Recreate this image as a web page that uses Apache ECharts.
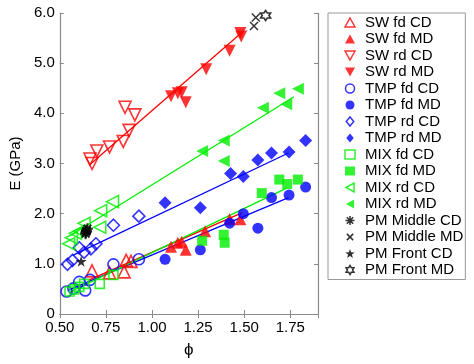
<!DOCTYPE html>
<html><head><meta charset="utf-8">
<script src="https://cdn.jsdelivr.net/npm/echarts@6/dist/echarts.min.js"></script>
<style>html,body{margin:0;padding:0;background:#fff}#c{width:474px;height:364px}</style>
</head><body><div id="c"></div>
<script>
const xTicks = [0.50, 0.75, 1.00, 1.25, 1.50, 1.75];
const yTicks = [0, 1, 2, 3, 4, 5, 6];
const seriesNames = ["SW fd CD","SW fd MD","SW rd CD","SW rd MD","TMP fd CD","TMP fd MD","TMP rd CD","TMP rd MD","MIX fd CD","MIX fd MD","MIX rd CD","MIX rd MD","PM Middle CD","PM Middle MD","PM Front CD","PM Front MD"];

const swFdCD = [[0.675,0.86],[0.770,0.82],[0.849,0.84],[0.860,1.07],[0.886,1.05]];
const swFdMD = [[1.103,1.34],[1.140,1.42],[1.161,1.44],[1.183,1.28],[1.288,1.65],[1.421,1.89],[1.479,1.89]];
const swRdCD = [[0.664,3.09],[0.675,3.00],[0.701,3.25],[0.770,3.33],[0.844,3.44],[0.876,3.66],[0.854,4.12],[0.907,3.97]];
const swRdMD = [[1.103,4.34],[1.140,4.40],[1.161,4.42],[1.183,4.22],[1.294,4.88],[1.421,5.25],[1.479,5.60],[1.484,5.53]];
const tmpFdCD = [[0.537,0.45],[0.574,0.51],[0.606,0.64],[0.638,0.47],[0.664,0.68],[0.791,0.99],[0.929,1.09]];
const tmpFdMD = [[1.071,1.09],[1.262,1.28],[1.421,1.81],[1.495,2.00],[1.574,1.71],[1.648,2.32],[1.743,2.37],[1.833,2.53]];
const tmpRdCD = [[0.542,0.99],[0.569,1.07],[0.606,1.32],[0.632,1.23],[0.669,1.30],[0.696,1.40],[0.791,1.77],[0.929,1.95]];
const tmpRdMD = [[1.071,2.22],[1.262,2.12],[1.426,2.80],[1.495,2.74],[1.574,3.07],[1.648,3.21],[1.743,3.23],[1.833,3.46]];
const mixFdCD = [[0.553,0.45],[0.579,0.49],[0.606,0.54],[0.632,0.60],[0.717,0.60],[0.791,0.78]];
const mixFdMD = [[1.272,1.46],[1.389,1.58],[1.394,1.42],[1.595,2.41],[1.690,2.68],[1.733,2.59],[1.791,2.68]];
const mixRdCD = [[0.548,1.40],[0.563,1.52],[0.585,1.61],[0.606,1.65],[0.632,1.81],[0.717,1.73],[0.722,2.06],[0.786,2.24]];
const mixRdMD = [[1.272,3.25],[1.389,3.46],[1.389,3.05],[1.601,4.11],[1.690,4.40],[1.728,4.18],[1.791,4.49]];
const pmMidCD = [[0.640,1.60],[0.645,1.66],[0.650,1.70],[0.642,1.63]];
const pmMidMD = [[1.553,5.74],[1.563,5.91]];
const pmFrontCD = [[0.616,1.05]];
const pmFrontMD = [[1.616,5.95]];

const swFdLine = [[0.66,0.68],[1.49,2.02]];
const swRdLine = [[0.664,2.98],[1.484,5.60]];
const tmpFdLine = [[0.55,0.48],[1.74,2.32]];
const tmpRdLine = [[0.57,1.17],[1.74,3.21]];
const mixFdLine = [[0.55,0.43],[1.73,2.51]];
const mixRdLine = [[0.56,1.57],[1.77,4.33]];

const RED = '#ff0000', BLUE = '#0000ff', GREEN = '#00ee00', BLACK = '#000000';
const STAR5 = 'path://M0,-10L2.35,-3.24L9.51,-3.09L3.8,1.24L5.88,8.09L0,4L-5.88,8.09L-3.8,1.24L-9.51,-3.09L-2.35,-3.24Z';
const HEX = 'path://M0,-10L2.89,-5L8.66,-5L5.77,0L8.66,5L2.89,5L0,10L-2.89,5L-8.66,5L-5.77,0L-8.66,-5L-2.89,-5Z';
const AST = 'path://M0,-10L0,10M-10,0L10,0M-7.07,-7.07L7.07,7.07M-7.07,7.07L7.07,-7.07';
const XMK = 'path://M-10,-10L10,10M-10,10L10,-10';
const XMK_L = 'path://M-7,-7L7,7M-7,7L7,-7M-10,-10L-10,-10M10,10L10,10';
const TRI_UP = 'path://M5,0L10,9L0,9Z';
const TRI_DN = 'path://M0,0L10,0L5,9Z';
const TRI_LT = 'path://M0,5L9,0L9,10Z';
const DIAM = 'path://M5,0L10,6L5,12L0,6Z';

function sc(name, data, symbol, size, color, open, rotate) {
  return {
    name, type: 'scatter', data, symbol, symbolSize: size, symbolRotate: rotate || 0,
    itemStyle: open ? {color: 'rgba(255,255,255,0)', borderColor: color, borderWidth: 1.6}
                    : {color: color, borderColor: color, borderWidth: 0},
    emphasis: {disabled: true}, z: 3
  };
}
function ln(data, color) {
  return {type: 'line', data, showSymbol: false, symbol: 'none', silent: true,
    lineStyle: {color, width: 1.3}, z: 2, emphasis: {disabled: true}};
}

const series = [
  sc(seriesNames[0], swFdCD, 'triangle', 12, RED, true),
  sc(seriesNames[1], swFdMD, 'triangle', 12, RED, false),
  sc(seriesNames[2], swRdCD, 'triangle', 12, RED, true, 180),
  sc(seriesNames[3], swRdMD, 'triangle', 12, RED, false, 180),
  sc(seriesNames[4], tmpFdCD, 'circle', 11, BLUE, true),
  sc(seriesNames[5], tmpFdMD, 'circle', 11, BLUE, false),
  sc(seriesNames[6], tmpRdCD, 'diamond', 12, BLUE, true),
  sc(seriesNames[7], tmpRdMD, 'diamond', 13, BLUE, false),
  sc(seriesNames[8], mixFdCD, 'rect', 9, GREEN, true),
  sc(seriesNames[9], mixFdMD, 'rect', 10, GREEN, false),
  sc(seriesNames[10], mixRdCD, 'triangle', 12, GREEN, true, 90),
  sc(seriesNames[11], mixRdMD, 'triangle', 12, GREEN, false, 90),
  {name: seriesNames[12], type: 'scatter', data: pmMidCD, symbol: AST, symbolSize: 11,
   itemStyle: {color: 'none', borderColor: BLACK, borderWidth: 2}, z: 4, emphasis: {disabled: true}},
  {name: seriesNames[13], type: 'scatter', data: pmMidMD, symbol: XMK, symbolSize: 8,
   itemStyle: {color: 'none', borderColor: BLACK, borderWidth: 1.5}, z: 4, emphasis: {disabled: true}},
  {name: seriesNames[14], type: 'scatter', data: pmFrontCD, symbol: STAR5, symbolSize: 11,
   itemStyle: {color: BLACK, borderWidth: 0}, z: 4, emphasis: {disabled: true}},
  {name: seriesNames[15], type: 'scatter', data: pmFrontMD, symbol: HEX, symbolSize: 10,
   itemStyle: {color: 'rgba(255,255,255,0)', borderColor: BLACK, borderWidth: 1.6}, z: 4, emphasis: {disabled: true}},
  ln(swFdLine, RED), ln(swRdLine, RED), ln(tmpFdLine, BLUE), ln(tmpRdLine, BLUE),
  ln(mixFdLine, GREEN), ln(mixRdLine, GREEN)
];

const legendIcons = [TRI_UP, TRI_UP, TRI_DN, TRI_DN, 'circle', 'circle', DIAM, DIAM, 'rect', 'rect', TRI_LT, TRI_LT, AST, XMK_L, STAR5, HEX];
const legendData = seriesNames.map((n, i) => {
  const s = series[i];
  const open = s.itemStyle.color === 'rgba(255,255,255,0)' || s.itemStyle.color === 'none';
  return {name: n, icon: legendIcons[i],
    itemStyle: {color: s.itemStyle.color, borderColor: s.itemStyle.borderColor || s.itemStyle.color,
      borderWidth: open ? 1.5 : 0}};
});

const AX = '#8a8a8a';
const FONT = "'Liberation Sans', Arial, sans-serif";
const chart = echarts.init(document.getElementById('c'), null, {renderer: 'canvas'});
chart.setOption({
  animation: false,
  backgroundColor: '#fff',
  grid: {left: 52, right: 156, top: 13, bottom: 43},
  legend: {
    data: legendData, orient: 'vertical', left: 328, top: 13,
    padding: [2, 2, 2, 15], itemGap: 1.5, itemWidth: 10, itemHeight: 9,
    backgroundColor: '#fff', borderColor: '#999', borderWidth: 1,
    symbolRotate: 0,
    textStyle: {fontFamily: FONT, fontSize: 15, color: '#000', lineHeight: 15, padding: [0,0,0,5]},
    selectedMode: false
  },
  xAxis: [{
    type: 'value', min: 0.5, max: 1.9, interval: 0.25,
    name: 'ϕ', nameLocation: 'middle', nameGap: 28,
    nameTextStyle: {fontFamily: FONT, fontSize: 17, color: '#000'},
    axisLine: {show: true, lineStyle: {color: AX, width: 1.2}},
    axisTick: {show: true, inside: true, length: 4, lineStyle: {color: AX}},
    axisLabel: {fontFamily: FONT, fontSize: 15, color: '#000', margin: 6, showMaxLabel: false,
      formatter: v => v.toFixed(2)},
    splitLine: {show: false}
  }, {
    type: 'value', position: 'top', min: 0.5, max: 1.9, interval: 0.25,
    axisLine: {show: true, lineStyle: {color: AX, width: 1.2}},
    axisTick: {show: true, inside: true, length: 4, lineStyle: {color: AX}},
    axisLabel: {show: false}, splitLine: {show: false}
  }],
  yAxis: [{
    type: 'value', min: 0, max: 6, interval: 1,
    name: 'E (GPa)', nameLocation: 'middle', nameGap: 33,
    nameTextStyle: {fontFamily: FONT, fontSize: 15, color: '#000'},
    axisLine: {show: true, lineStyle: {color: AX, width: 1.2}},
    axisTick: {show: true, inside: true, length: 4, lineStyle: {color: AX}},
    axisLabel: {fontFamily: FONT, fontSize: 15, color: '#000', margin: 5,
      formatter: v => v === 0 ? '0' : v.toFixed(1)},
    splitLine: {show: false}
  }, {
    type: 'value', position: 'right', min: 0, max: 6, interval: 1,
    axisLine: {show: true, lineStyle: {color: AX, width: 1.2}},
    axisTick: {show: true, inside: true, length: 4, lineStyle: {color: AX}},
    axisLabel: {show: false}, splitLine: {show: false}
  }],
  series: series
});
</script></body></html>
